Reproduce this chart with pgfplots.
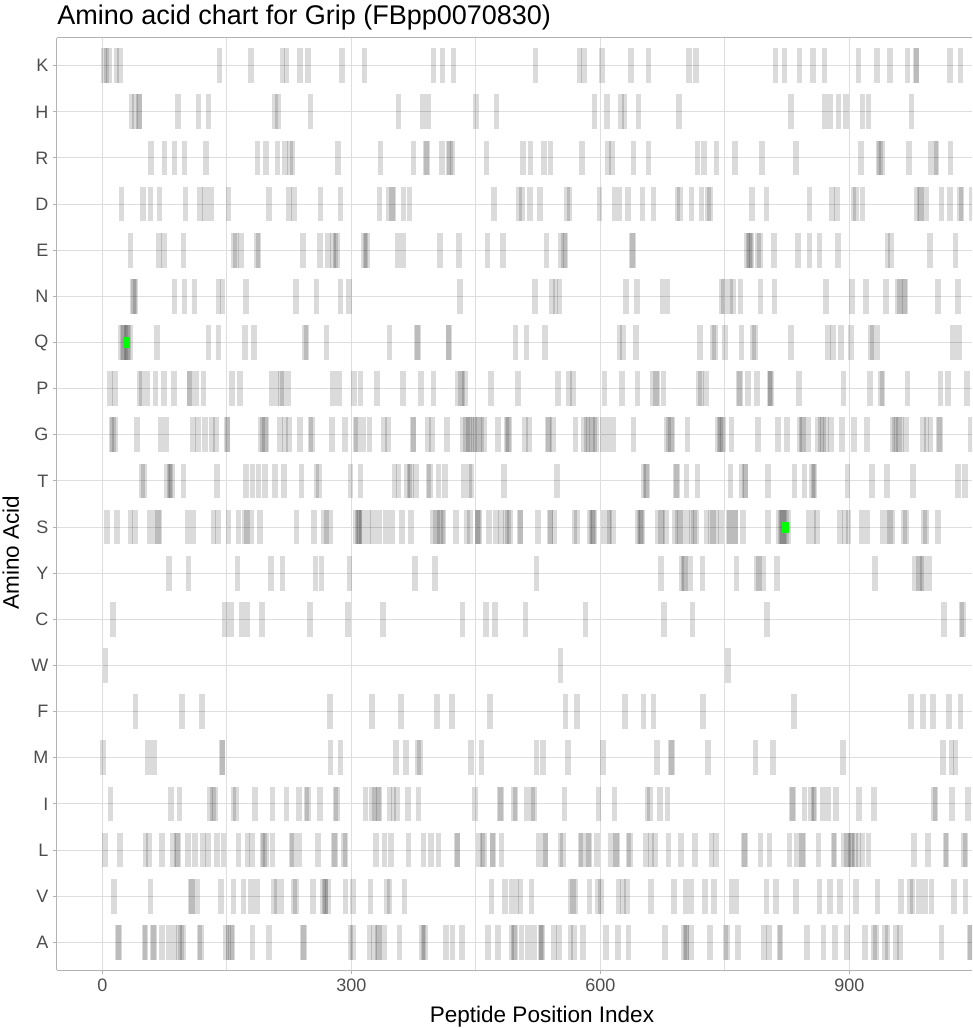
\documentclass[border=0pt]{standalone}
\usepackage{fontspec}
\setmainfont{Liberation Sans}
\usepackage{pgfplots}
\pgfplotsset{compat=1.18}

\definecolor{gridgrey}{HTML}{DEDEDE}
\definecolor{bordergrey}{HTML}{B3B3B3}
\definecolor{ticktext}{HTML}{4D4D4D}
\definecolor{hit}{HTML}{00FF00}

% one translucent bar per residue; overlaps darken
\pgfplotsset{
  residue/.style={only marks, mark=|, mark size=13pt,
    mark options={line width=4.23pt, draw=black, draw opacity=0.14}},
}

\begin{document}
\begin{tikzpicture}
\begin{axis}[
    scale only axis,
    width=686.25pt, height=699pt,
    xmin=-54.6, xmax=1047.8,
    ymin=0.4, ymax=20.6,
    axis x line*=bottom, axis y line*=left,
    axis line style={bordergrey, line width=0.75pt},
    xtick={0,300,600,900},
    minor xtick={150,450,750},
    ytick={1,...,20},
    yticklabels={A,V,L,I,M,F,W,C,Y,S,T,G,P,Q,N,E,D,R,H,K},
    tick align=outside,
    major tick length=3pt, minor tick length=0pt,
    major tick style={bordergrey, line width=0.75pt},
    grid=both,
    major grid style={gridgrey, line width=0.75pt},
    minor grid style={gridgrey, line width=0.5pt},
    tick label style={ticktext, font=\fontsize{13.5}{16}\selectfont},
    /pgf/number format/assume math mode=true,
    clip marker paths=true,
    title={Amino acid chart for Grip (FBpp0070830)},
    every axis title/.style={at={(axis description cs:0,1)}, anchor=base west,
      yshift=9.75pt, inner sep=0pt, font=\fontsize{20.25}{24}\selectfont},
    xlabel={Peptide Position Index},
    every axis x label/.style={at={(axis description cs:0.53,0)}, anchor=base,
      yshift=-39pt, inner sep=0pt, font=\fontsize{16.9}{20}\selectfont},
    ylabel={Amino Acid},
    every axis y label/.style={at={(axis description cs:0,0.448)}, xshift=-28.5pt,
      rotate=90, anchor=base, inner sep=0pt, font=\fontsize{16.9}{20}\selectfont},
    after end axis/.code={
      \draw[bordergrey, line width=0.75pt] (rel axis cs:0,1) -- (rel axis cs:1,1);
    },
]
% K
\addplot[residue] coordinates {(2,20)(5,20)(8,20)(17,20)(21,20)(141,20)(179,20)(217,20)(222,20)(238,20)(248,20)(289,20)(316,20)(399,20)(410,20)(423,20)(522,20)(575,20)(580,20)(602,20)(637,20)(658,20)(707,20)(715,20)(811,20)(822,20)(840,20)(856,20)(870,20)(911,20)(933,20)(949,20)(970,20)(980,20)(981,20)(1021,20)(1034,20)(1049,20)};
% H
\addplot[residue] coordinates {(35,19)(39,19)(44,19)(45,19)(91,19)(116,19)(128,19)(208,19)(212,19)(251,19)(357,19)(386,19)(393,19)(450,19)(475,19)(593,19)(608,19)(625,19)(629,19)(646,19)(695,19)(830,19)(870,19)(877,19)(887,19)(896,19)(916,19)(923,19)(975,19)};
% R
\addplot[residue] coordinates {(59,18)(75,18)(87,18)(99,18)(125,18)(187,18)(197,18)(211,18)(220,18)(226,18)(229,18)(284,18)(335,18)(375,18)(390,18)(391,18)(409,18)(417,18)(419,18)(422,18)(463,18)(507,18)(516,18)(532,18)(540,18)(578,18)(609,18)(614,18)(640,18)(658,18)(717,18)(725,18)(740,18)(762,18)(795,18)(836,18)(914,18)(935,18)(937,18)(939,18)(972,18)(998,18)(1004,18)(1005,18)(1022,18)};
% D
\addplot[residue] coordinates {(23,17)(49,17)(58,17)(69,17)(100,17)(118,17)(124,17)(131,17)(152,17)(201,17)(225,17)(231,17)(263,17)(287,17)(334,17)(345,17)(349,17)(351,17)(363,17)(370,17)(472,17)(502,17)(506,17)(515,17)(527,17)(560,17)(563,17)(599,17)(617,17)(623,17)(633,17)(651,17)(664,17)(693,17)(696,17)(710,17)(722,17)(730,17)(732,17)(783,17)(800,17)(852,17)(879,17)(885,17)(905,17)(908,17)(916,17)(981,17)(985,17)(986,17)(992,17)(1011,17)(1021,17)(1033,17)(1035,17)(1047,17)};
% E
\addplot[residue] coordinates {(34,16)(68,16)(74,16)(98,16)(159,16)(161,16)(167,16)(186,16)(188,16)(242,16)(262,16)(272,16)(278,16)(281,16)(283,16)(315,16)(317,16)(319,16)(356,16)(363,16)(407,16)(430,16)(464,16)(483,16)(535,16)(553,16)(556,16)(558,16)(638,16)(639,16)(777,16)(779,16)(780,16)(782,16)(790,16)(792,16)(809,16)(838,16)(852,16)(864,16)(886,16)(946,16)(950,16)(997,16)(1028,16)};
% N
\addplot[residue] coordinates {(37,15)(38,15)(40,15)(87,15)(99,15)(111,15)(140,15)(145,15)(173,15)(233,15)(258,15)(287,15)(297,15)(431,15)(521,15)(542,15)(546,15)(551,15)(631,15)(644,15)(675,15)(681,15)(746,15)(749,15)(756,15)(760,15)(769,15)(793,15)(810,15)(872,15)(903,15)(920,15)(944,15)(959,15)(961,15)(966,15)(967,15)(1007,15)(1031,15)};
% Q
\addplot[residue] coordinates {(22,14)(25,14)(26,14)(28,14)(30,14)(31,14)(33,14)(66,14)(128,14)(140,14)(172,14)(183,14)(244,14)(246,14)(270,14)(346,14)(379,14)(380,14)(417,14)(418,14)(498,14)(511,14)(533,14)(623,14)(627,14)(643,14)(720,14)(736,14)(738,14)(750,14)(770,14)(784,14)(786,14)(830,14)(874,14)(880,14)(890,14)(902,14)(926,14)(928,14)(934,14)(1025,14)(1032,14)};
% P
\addplot[residue] coordinates {(9,13)(15,13)(45,13)(47,13)(54,13)(64,13)(74,13)(86,13)(105,13)(106,13)(113,13)(122,13)(156,13)(166,13)(204,13)(210,13)(215,13)(217,13)(224,13)(278,13)(285,13)(303,13)(311,13)(331,13)(362,13)(384,13)(399,13)(428,13)(432,13)(434,13)(437,13)(468,13)(501,13)(549,13)(562,13)(567,13)(605,13)(626,13)(645,13)(663,13)(667,13)(669,13)(676,13)(719,13)(721,13)(727,13)(767,13)(768,13)(778,13)(789,13)(804,13)(805,13)(806,13)(839,13)(893,13)(925,13)(938,13)(940,13)(970,13)(1010,13)(1019,13)(1042,13)};
% G
\addplot[residue] coordinates {(11,12)(13,12)(15,12)(42,12)(70,12)(77,12)(109,12)(115,12)(124,12)(132,12)(137,12)(150,12)(151,12)(191,12)(193,12)(196,12)(198,12)(214,12)(220,12)(225,12)(238,12)(251,12)(253,12)(277,12)(292,12)(305,12)(307,12)(314,12)(322,12)(339,12)(344,12)(374,12)(375,12)(392,12)(397,12)(415,12)(434,12)(438,12)(440,12)(442,12)(445,12)(448,12)(450,12)(454,12)(457,12)(460,12)(477,12)(487,12)(489,12)(490,12)(509,12)(514,12)(537,12)(538,12)(543,12)(570,12)(580,12)(584,12)(586,12)(590,12)(593,12)(595,12)(603,12)(610,12)(616,12)(640,12)(680,12)(682,12)(685,12)(687,12)(705,12)(742,12)(744,12)(745,12)(748,12)(758,12)(790,12)(814,12)(825,12)(840,12)(843,12)(844,12)(850,12)(862,12)(866,12)(868,12)(872,12)(878,12)(891,12)(906,12)(921,12)(952,12)(955,12)(957,12)(960,12)(963,12)(968,12)(989,12)(993,12)(998,12)(1008,12)(1009,12)(1046,12)};
% T
\addplot[residue] coordinates {(48,11)(50,11)(78,11)(81,11)(82,11)(84,11)(98,11)(138,11)(173,11)(181,11)(188,11)(196,11)(208,11)(219,11)(240,11)(258,11)(261,11)(299,11)(311,11)(352,11)(357,11)(367,11)(370,11)(372,11)(378,11)(393,11)(395,11)(405,11)(413,11)(435,11)(442,11)(445,11)(484,11)(548,11)(652,11)(655,11)(656,11)(691,11)(692,11)(704,11)(717,11)(757,11)(770,11)(774,11)(775,11)(802,11)(834,11)(846,11)(855,11)(857,11)(858,11)(898,11)(927,11)(945,11)(977,11)(1031,11)(1039,11)};
% S
\addplot[residue] coordinates {(6,10)(18,10)(34,10)(39,10)(57,10)(63,10)(67,10)(69,10)(103,10)(110,10)(134,10)(139,10)(152,10)(164,10)(172,10)(174,10)(179,10)(190,10)(234,10)(255,10)(267,10)(270,10)(274,10)(305,10)(308,10)(309,10)(310,10)(313,10)(320,10)(326,10)(333,10)(342,10)(349,10)(361,10)(372,10)(398,10)(402,10)(404,10)(407,10)(409,10)(411,10)(426,10)(439,10)(443,10)(452,10)(453,10)(454,10)(466,10)(474,10)(480,10)(486,10)(489,10)(491,10)(503,10)(504,10)(525,10)(539,10)(540,10)(545,10)(569,10)(572,10)(587,10)(590,10)(591,10)(592,10)(604,10)(610,10)(611,10)(615,10)(645,10)(648,10)(649,10)(650,10)(669,10)(673,10)(675,10)(679,10)(690,10)(693,10)(696,10)(699,10)(705,10)(710,10)(713,10)(715,10)(728,10)(733,10)(736,10)(740,10)(745,10)(755,10)(756,10)(762,10)(763,10)(772,10)(802,10)(815,10)(817,10)(819,10)(820,10)(822,10)(824,10)(826,10)(851,10)(857,10)(861,10)(889,10)(895,10)(899,10)(915,10)(922,10)(940,10)(946,10)(949,10)(952,10)(966,10)(968,10)(990,10)(992,10)(1007,10)};
% Y
\addplot[residue] coordinates {(80,9)(104,9)(163,9)(203,9)(217,9)(257,9)(264,9)(298,9)(377,9)(401,9)(523,9)(673,9)(698,9)(701,9)(702,9)(708,9)(723,9)(764,9)(789,9)(791,9)(796,9)(813,9)(931,9)(979,9)(984,9)(986,9)(989,9)(996,9)};
% C
\addplot[residue] coordinates {(13,8)(148,8)(155,8)(168,8)(175,8)(192,8)(250,8)(296,8)(338,8)(434,8)(462,8)(473,8)(510,8)(582,8)(677,8)(711,8)(801,8)(1014,8)(1035,8)(1037,8)};
% W
\addplot[residue] coordinates {(4,7)(552,7)(754,7)};
% F
\addplot[residue] coordinates {(40,6)(96,6)(120,6)(274,6)(325,6)(360,6)(403,6)(421,6)(467,6)(558,6)(572,6)(630,6)(652,6)(664,6)(724,6)(833,6)(974,6)(989,6)(1001,6)(1020,6)(1034,6)};
% M
\addplot[residue] coordinates {(1,5)(55,5)(62,5)(144,5)(145,5)(275,5)(287,5)(354,5)(366,5)(380,5)(383,5)(444,5)(457,5)(523,5)(531,5)(561,5)(603,5)(668,5)(685,5)(686,5)(730,5)(787,5)(808,5)(892,5)(1013,5)(1023,5)(1028,5)};
% I
\addplot[residue] coordinates {(10,4)(83,4)(93,4)(130,4)(133,4)(136,4)(158,4)(161,4)(184,4)(205,4)(222,4)(237,4)(246,4)(248,4)(262,4)(281,4)(283,4)(317,4)(325,4)(328,4)(332,4)(333,4)(346,4)(351,4)(355,4)(368,4)(381,4)(449,4)(479,4)(480,4)(496,4)(498,4)(511,4)(518,4)(520,4)(557,4)(598,4)(617,4)(657,4)(660,4)(672,4)(681,4)(831,4)(832,4)(846,4)(854,4)(857,4)(858,4)(868,4)(875,4)(884,4)(912,4)(930,4)(1002,4)(1004,4)(1024,4)(1043,4)};
% L
\addplot[residue] coordinates {(3,3)(21,3)(52,3)(56,3)(72,3)(85,3)(90,3)(91,3)(103,3)(112,3)(121,3)(127,3)(138,3)(146,3)(164,3)(175,3)(180,3)(193,3)(195,3)(197,3)(205,3)(228,3)(230,3)(237,3)(260,3)(279,3)(280,3)(291,3)(293,3)(330,3)(340,3)(348,3)(369,3)(387,3)(396,3)(405,3)(427,3)(428,3)(454,3)(458,3)(460,3)(470,3)(471,3)(481,3)(526,3)(533,3)(534,3)(552,3)(555,3)(576,3)(578,3)(585,3)(586,3)(596,3)(613,3)(619,3)(620,3)(634,3)(636,3)(655,3)(661,3)(666,3)(682,3)(697,3)(714,3)(734,3)(739,3)(773,3)(774,3)(793,3)(804,3)(828,3)(837,3)(843,3)(844,3)(863,3)(881,3)(882,3)(893,3)(897,3)(899,3)(902,3)(904,3)(907,3)(911,3)(916,3)(923,3)(978,3)(995,3)(1016,3)(1017,3)(1038,3)(1040,3)};
% V
\addplot[residue] coordinates {(14,2)(58,2)(107,2)(108,2)(114,2)(143,2)(158,2)(170,2)(179,2)(186,2)(207,2)(210,2)(216,2)(231,2)(233,2)(254,2)(266,2)(268,2)(269,2)(272,2)(293,2)(302,2)(323,2)(343,2)(346,2)(364,2)(469,2)(485,2)(493,2)(499,2)(504,2)(517,2)(564,2)(567,2)(570,2)(587,2)(597,2)(601,2)(622,2)(627,2)(632,2)(661,2)(689,2)(703,2)(710,2)(726,2)(737,2)(758,2)(764,2)(800,2)(812,2)(836,2)(864,2)(877,2)(889,2)(908,2)(934,2)(962,2)(973,2)(976,2)(984,2)(991,2)(999,2)(1026,2)(1040,2)};
% A
\addplot[residue] coordinates {(19,1)(20,1)(51,1)(52,1)(61,1)(62,1)(72,1)(80,1)(87,1)(92,1)(95,1)(97,1)(117,1)(119,1)(149,1)(152,1)(155,1)(157,1)(181,1)(201,1)(242,1)(243,1)(299,1)(302,1)(322,1)(327,1)(332,1)(333,1)(339,1)(358,1)(385,1)(387,1)(389,1)(414,1)(422,1)(433,1)(465,1)(477,1)(493,1)(496,1)(497,1)(505,1)(513,1)(520,1)(528,1)(529,1)(530,1)(544,1)(550,1)(564,1)(568,1)(579,1)(607,1)(621,1)(634,1)(678,1)(701,1)(703,1)(704,1)(709,1)(732,1)(751,1)(753,1)(766,1)(797,1)(803,1)(816,1)(817,1)(849,1)(869,1)(883,1)(897,1)(919,1)(930,1)(932,1)(943,1)(946,1)(956,1)(961,1)(1011,1)(1045,1)(1046,1)};
% highlighted positions
\addplot[only marks, mark=|, mark size=4.1pt,
  mark options={line width=5.6pt, draw=hit}] coordinates {(29,14) (823,10)};
\end{axis}
\pgfresetboundingbox
\path[use as bounding box] (-42.75pt,-43.5pt) rectangle (686.25pt,727.5pt);
\end{tikzpicture}
\end{document}
